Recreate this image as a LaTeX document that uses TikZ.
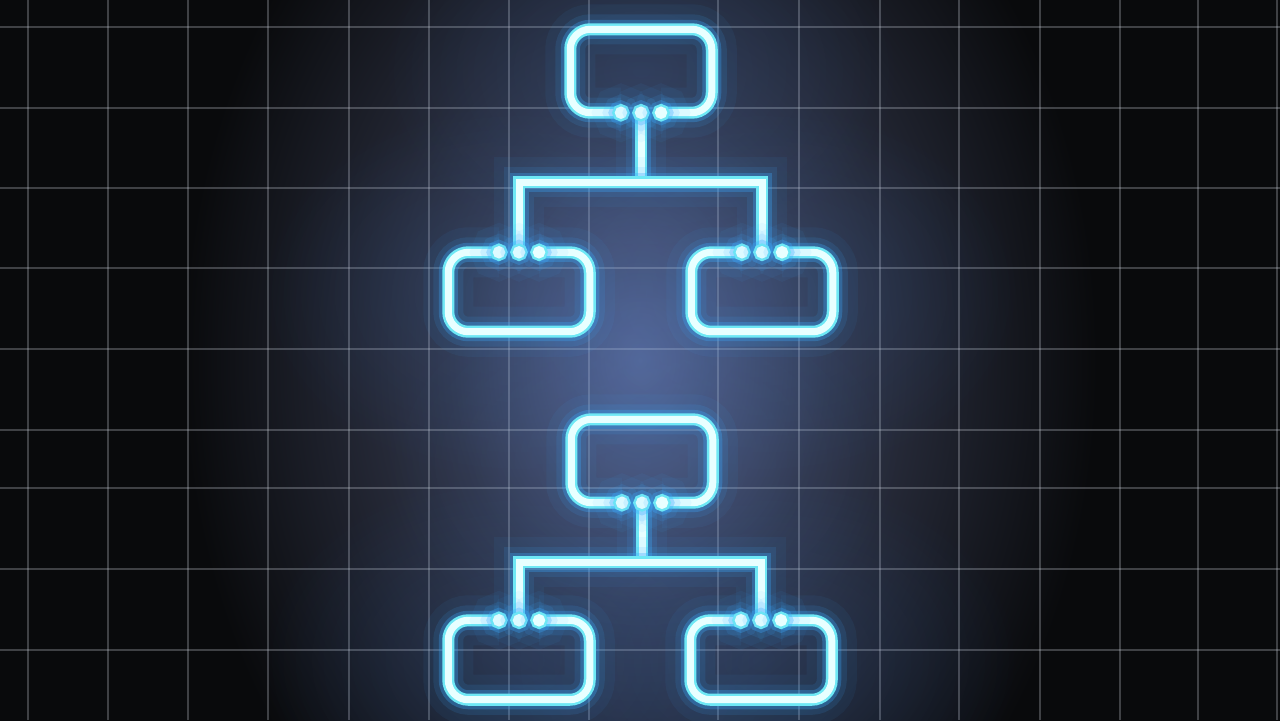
\documentclass[tikz,border=0pt]{standalone}
\usetikzlibrary{fadings}

\definecolor{bgcenter}{RGB}{88,98,138}
\definecolor{bgmid}{RGB}{48,53,72}
\definecolor{bgdark}{RGB}{9,10,12}
\definecolor{gridcol}{RGB}{205,210,220}
\definecolor{neoncore}{RGB}{232,255,255}
\definecolor{neonmid}{RGB}{110,232,245}
\definecolor{neonglow}{RGB}{60,170,255}
\definecolor{hazecol}{RGB}{70,130,220}

\pgfdeclareradialshading{bgglow}{\pgfpoint{0bp}{0bp}}{color(0bp)=(bgcenter); color(9bp)=(bgmid); color(22bp)=(bgdark); color(50bp)=(bgdark)}
\tikzfading[name=softglow, inner color=transparent!0, outer color=transparent!100]

\tikzset{
  gridline/.style={draw=gridcol, line width=0.2mm, opacity=0.28},
  neon/.style={draw=neoncore, line width=0.7mm, line cap=round,
    preaction={draw=neonglow, line width=5mm, opacity=0.06},
    preaction={draw=neonglow, line width=3mm, opacity=0.12},
    preaction={draw=neonglow, line width=1.9mm, opacity=0.3},
    preaction={draw=neonmid, line width=1.2mm}},
  chartbox/.style={inner sep=0pt, minimum width=1.4cm, minimum height=0.82cm},
  childbox/.style={chartbox, minimum height=0.78cm},
  boxglow/.style={fill=hazecol, path fading=softglow, opacity=0.18}
}

\begin{document}
\begin{tikzpicture}[x=0.01cm, y=0.01cm]
  \useasboundingbox (0,0) rectangle (1280,720);
  \fill[bgdark] (-10,-10) rectangle (1290,730);
  \shade[shading=bgglow] (120,-340) rectangle (1160,1060);

  % grid
  \foreach \x in {28,108,188,268,349,429,509,589,718,799,880,959,1040,1120,1198,1277}
    \draw[gridline] (\x,0) -- (\x,720);
  \foreach \y in {693,612,532,452,371,290,232,151,70}
    \draw[gridline] (0,\y) -- (1280,\y);

  % first chart
  \node[chartbox] (top1) at (641,649) {};
  \node[childbox] (left1) at (519,428) {};
  \node[childbox] (right1) at (762,428) {};
  \coordinate (bar1) at (641,538);

  % second chart
  \node[chartbox] (top2) at (642,259) {};
  \node[childbox] (left2) at (519,60) {};
  \node[childbox] (right2) at (761,60) {};
  \coordinate (bar2) at (642,158);

  \foreach \n in {top1,left1,right1,top2,left2,right2}
    \fill[boxglow] (\n) ellipse (260 and 190);

  % open boxes
  \foreach \n in {top1,top2}
    \draw[neon, rounded corners=2mm] ([xshift=-2mm]\n.south) -| (\n.north west) -| (\n.south east) -- ([xshift=2mm]\n.south);
  \foreach \n in {left1,right1,left2,right2}
    \draw[neon, rounded corners=2mm] ([xshift=-2mm]\n.north) -| (\n.south west) -| (\n.north east) -- ([xshift=2mm]\n.north);

  % connectors
  \draw[neon] (top1.south) -- (bar1);
  \draw[neon] (left1.north) |- (bar1) -| (right1.north);
  \draw[neon] (top2.south) -- (bar2);
  \draw[neon] (left2.north) |- (bar2) -| (right2.north);

  % dots
  \foreach \n in {top1,top2}
    \foreach \s in {-2mm,0mm,2mm}
      \draw[neon] ([xshift=\s]\n.south) circle (2.5);
  \foreach \n in {left1,right1,left2,right2}
    \foreach \s in {-2mm,0mm,2mm}
      \draw[neon] ([xshift=\s]\n.north) circle (2.5);
\end{tikzpicture}
\end{document}
